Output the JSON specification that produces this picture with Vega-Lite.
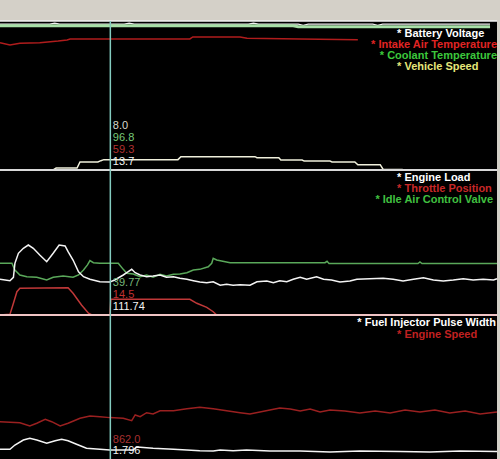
{
  "$schema": "https://vega.github.io/schema/vega-lite/v6.json",
  "background": "#d4d0c8",
  "padding": {"top": 21, "left": 0, "right": 3, "bottom": 0},
  "autosize": {"type": "none"},
  "width": 497,
  "height": 438,
  "config": {"view": {"fill": "#000000", "stroke": null}},
  "datasets": {
    "battery": [{"t":0,"v":13.7},{"t":10,"v":13.7},{"t":11,"v":13.8},{"t":12,"v":13.7},{"t":25,"v":13.7},{"t":26,"v":13.8},{"t":27,"v":13.7},{"t":50,"v":13.7},{"t":51,"v":13.8},{"t":52,"v":13.7},{"t":60,"v":13.7},{"t":61,"v":13.6},{"t":62,"v":13.7},{"t":75,"v":13.7},{"t":76,"v":13.6},{"t":77,"v":13.7},{"t":98.6,"v":13.7}],
    "coolant": [{"t":0,"v":96.8},{"t":59,"v":96.8},{"t":60,"v":96.2},{"t":98.6,"v":96.2}],
    "intake": [{"t":0,"v":57.7},{"t":2.0,"v":56.6},{"t":4.0,"v":57.4},{"t":8.0,"v":57.7},{"t":11.7,"v":58.4},{"t":13.5,"v":58.9},{"t":14.1,"v":59.3},{"t":38.2,"v":59.4},{"t":38.8,"v":60.3},{"t":48.3,"v":60.3},{"t":49.7,"v":59.7},{"t":60.4,"v":59.3},{"t":72.0,"v":59.0}],
    "speed": [{"t":0,"v":0},{"t":10.7,"v":0},{"t":11.3,"v":1.5},{"t":15.5,"v":1.5},{"t":16.1,"v":6.2},{"t":19.7,"v":6.2},{"t":20.3,"v":7.2},{"t":20.9,"v":8.0},{"t":35.8,"v":8.0},{"t":36.4,"v":10.3},{"t":51.3,"v":10.3},{"t":51.7,"v":9.5},{"t":56.1,"v":9.5},{"t":56.5,"v":7.7},{"t":60.8,"v":7.7},{"t":61.2,"v":6.9},{"t":66.4,"v":6.9},{"t":66.8,"v":6.2},{"t":71.4,"v":6.2},{"t":72.0,"v":4.1},{"t":76.5,"v":4.1},{"t":77.1,"v":0.4},{"t":80.9,"v":0.4},{"t":81.3,"v":0}],
    "load": [{"t":0,"v":120.6},{"t":2.0,"v":115.9},{"t":2.7,"v":127.4},{"t":3.0,"v":174.7},{"t":3.7,"v":208.5},{"t":4.7,"v":225.4},{"t":5.7,"v":236.5},{"t":6.7,"v":225.4},{"t":8.0,"v":202.7},{"t":9.4,"v":180.1},{"t":10.7,"v":208.5},{"t":11.9,"v":236.5},{"t":13.1,"v":233.2},{"t":13.7,"v":213.9},{"t":14.7,"v":185.8},{"t":15.8,"v":146.3},{"t":16.8,"v":129.4},{"t":18.1,"v":120.6},{"t":20.1,"v":112.5},{"t":22.1,"v":111.5},{"t":23.1,"v":118.3},{"t":24.8,"v":135.2},{"t":25.8,"v":146.3},{"t":26.5,"v":154.4},{"t":27.2,"v":142.9},{"t":28.2,"v":135.2},{"t":29.5,"v":129.4},{"t":30.8,"v":131.8},{"t":32.2,"v":135.2},{"t":33.5,"v":127.4},{"t":34.9,"v":129.4},{"t":36.2,"v":124.0},{"t":37.6,"v":120.6},{"t":38.9,"v":115.9},{"t":40.2,"v":111.5},{"t":41.6,"v":109.1},{"t":42.9,"v":112.5},{"t":44.3,"v":100.4},{"t":45.6,"v":103.7},{"t":46.9,"v":100.4},{"t":48.3,"v":102.4},{"t":50.3,"v":100.4},{"t":51.7,"v":112.5},{"t":53.7,"v":114.9},{"t":55.0,"v":109.1},{"t":56.3,"v":115.9},{"t":57.7,"v":112.5},{"t":59.0,"v":120.6},{"t":60.4,"v":127.4},{"t":61.7,"v":120.6},{"t":63.7,"v":129.4},{"t":65.1,"v":120.6},{"t":66.7,"v":118.3},{"t":68.4,"v":111.5},{"t":70.4,"v":114.9},{"t":71.8,"v":120.6},{"t":74.4,"v":122.7},{"t":77.1,"v":124.0},{"t":79.1,"v":120.6},{"t":81.1,"v":114.9},{"t":83.2,"v":120.6},{"t":85.2,"v":126.0},{"t":87.2,"v":118.3},{"t":89.2,"v":114.9},{"t":91.2,"v":118.3},{"t":93.2,"v":122.7},{"t":95.2,"v":118.3},{"t":97.2,"v":120.6},{"t":99.3,"v":118.3},{"t":100,"v":122.7}],
    "iac": [{"t":0,"v":39.8},{"t":2.4,"v":39.8},{"t":3.0,"v":34.6},{"t":4.0,"v":30.8},{"t":5.4,"v":29.5},{"t":7.4,"v":29.0},{"t":9.4,"v":26.9},{"t":10.7,"v":29.0},{"t":12.7,"v":30.0},{"t":14.7,"v":29.0},{"t":15.8,"v":30.8},{"t":16.8,"v":34.6},{"t":17.6,"v":38.5},{"t":18.1,"v":41.8},{"t":18.8,"v":40.2},{"t":20.1,"v":39.8},{"t":23.8,"v":39.8},{"t":24.8,"v":35.1},{"t":25.5,"v":32.1},{"t":26.8,"v":31.5},{"t":28.2,"v":29.5},{"t":29.5,"v":30.8},{"t":30.8,"v":29.0},{"t":32.2,"v":31.3},{"t":33.5,"v":30.0},{"t":34.9,"v":31.3},{"t":36.2,"v":31.5},{"t":37.6,"v":32.5},{"t":38.9,"v":34.6},{"t":40.2,"v":35.1},{"t":41.9,"v":37.1},{"t":42.6,"v":39.8},{"t":42.9,"v":43.6},{"t":43.6,"v":42.3},{"t":46.3,"v":40.2},{"t":50.3,"v":40.2},{"t":65.4,"v":40.2},{"t":65.8,"v":41.3},{"t":66.2,"v":39.6},{"t":84.1,"v":39.6},{"t":84.5,"v":40.8},{"t":84.9,"v":39.6},{"t":100,"v":39.6}],
    "throttle": [{"t":0,"v":0},{"t":2.0,"v":0.6},{"t":2.7,"v":10.8},{"t":3.4,"v":21.5},{"t":4.0,"v":24.7},{"t":13.7,"v":25.2},{"t":14.7,"v":20.1},{"t":16.4,"v":9.2},{"t":17.8,"v":1.6},{"t":18.5,"v":0},{"t":22.1,"v":0},{"t":22.3,"v":14.5},{"t":38.2,"v":14.5},{"t":39.6,"v":10.8},{"t":41.6,"v":7.1},{"t":42.9,"v":3.0},{"t":43.6,"v":0},{"t":100,"v":0}],
    "rpm": [{"t":0,"v":777},{"t":4.0,"v":756},{"t":6.0,"v":687},{"t":7.4,"v":744},{"t":9.1,"v":827},{"t":10.4,"v":777},{"t":12.1,"v":687},{"t":13.7,"v":744},{"t":16.1,"v":848},{"t":18.1,"v":896},{"t":20.1,"v":881},{"t":22.1,"v":862},{"t":24.8,"v":848},{"t":26.5,"v":798},{"t":27.2,"v":917},{"t":28.2,"v":881},{"t":29.5,"v":964},{"t":30.8,"v":937},{"t":32.2,"v":1006},{"t":34.9,"v":1006},{"t":37.6,"v":1048},{"t":40.2,"v":1077},{"t":42.9,"v":1048},{"t":45.6,"v":1006},{"t":48.3,"v":964},{"t":50.3,"v":937},{"t":52.3,"v":979},{"t":54.3,"v":1021},{"t":56.3,"v":1062},{"t":58.4,"v":1042},{"t":60.4,"v":1000},{"t":62.4,"v":1042},{"t":64.4,"v":979},{"t":66.4,"v":1021},{"t":69.4,"v":1000},{"t":72.4,"v":958},{"t":75.5,"v":1000},{"t":78.5,"v":958},{"t":81.5,"v":1021},{"t":84.5,"v":979},{"t":87.5,"v":1021},{"t":90.5,"v":958},{"t":93.6,"v":1000},{"t":96.6,"v":937},{"t":100,"v":979}],
    "fuel": [{"t":0,"v":1.94},{"t":2.0,"v":1.94},{"t":3.0,"v":2.80},{"t":4.7,"v":3.80},{"t":6.0,"v":4.14},{"t":7.4,"v":3.80},{"t":9.4,"v":3.14},{"t":11.1,"v":3.66},{"t":12.4,"v":3.94},{"t":13.7,"v":3.66},{"t":15.4,"v":2.94},{"t":17.4,"v":2.14},{"t":20.1,"v":1.94},{"t":22.1,"v":1.80},{"t":26.8,"v":1.80},{"t":27.4,"v":2.34},{"t":28.2,"v":2.34},{"t":30.8,"v":2.14},{"t":34.9,"v":1.94},{"t":37.6,"v":1.80},{"t":40.2,"v":1.66},{"t":42.9,"v":1.60},{"t":44.3,"v":1.80},{"t":46.9,"v":1.66},{"t":49.6,"v":1.80},{"t":54.3,"v":1.60},{"t":60.4,"v":1.60},{"t":66.4,"v":1.40},{"t":72.4,"v":1.60},{"t":80.5,"v":1.50},{"t":86.5,"v":1.40},{"t":92.6,"v":1.60},{"t":100,"v":1.50}],
    "labels1": [{"s": "Battery Voltage"}, {"s": "Intake Air Temperature"}, {"s": "Coolant Temperature"}, {"s": "Vehicle Speed"}],
    "labels2": [{"s": "Engine Load"}, {"s": "Throttle Position"}, {"s": "Idle Air Control Valve"}],
    "labels3": [{"s": "Fuel Injector Pulse Width"}, {"s": "Engine Speed"}]
  },
  "resolve": {"scale": {"y": "independent", "color": "independent"}},
  "layer": [
    {"data": {"name": "battery"}, "mark": {"type": "line", "color": "#f2f2f2", "strokeWidth": 1.2},
     "encoding": {"x": {"field": "t", "type": "quantitative", "scale": {"domain": [0, 100], "nice": false, "zero": false}, "axis": null},
                  "y": {"field": "v", "type": "quantitative", "scale": {"domain": [0, 14], "range": [149, 0]}, "axis": null}}},
    {"data": {"name": "coolant"}, "mark": {"type": "line", "color": "#a8e0a8", "strokeWidth": 3},
     "encoding": {"x": {"field": "t", "type": "quantitative", "scale": {"domain": [0, 100], "nice": false, "zero": false}, "axis": null},
                  "y": {"field": "v", "type": "quantitative", "scale": {"domain": [0, 100], "range": [149, 0]}, "axis": null}}},
    {"data": {"name": "intake"}, "mark": {"type": "line", "color": "#b01c1c", "strokeWidth": 1.5},
     "encoding": {"x": {"field": "t", "type": "quantitative", "scale": {"domain": [0, 100], "nice": false, "zero": false}, "axis": null},
                  "y": {"field": "v", "type": "quantitative", "scale": {"domain": [0, 67.5], "range": [149, 0]}, "axis": null}}},
    {"data": {"name": "speed"}, "mark": {"type": "line", "color": "#f0f0dc", "strokeWidth": 1.5},
     "encoding": {"x": {"field": "t", "type": "quantitative", "scale": {"domain": [0, 100], "nice": false, "zero": false}, "axis": null},
                  "y": {"field": "v", "type": "quantitative", "scale": {"domain": [0, 115], "range": [149, 0]}, "axis": null}}},
    {"data": {"name": "iac"}, "mark": {"type": "line", "color": "#5aa85a", "strokeWidth": 1.5},
     "encoding": {"x": {"field": "t", "type": "quantitative", "scale": {"domain": [0, 100], "nice": false, "zero": false}, "axis": null},
                  "y": {"field": "v", "type": "quantitative", "scale": {"domain": [0, 111.5], "range": [294, 149]}, "axis": null}}},
    {"data": {"name": "throttle"}, "mark": {"type": "line", "color": "#c03838", "strokeWidth": 1.5},
     "encoding": {"x": {"field": "t", "type": "quantitative", "scale": {"domain": [0, 100], "nice": false, "zero": false}, "axis": null},
                  "y": {"field": "v", "type": "quantitative", "scale": {"domain": [0, 134], "range": [294, 149]}, "axis": null}}},
    {"data": {"name": "load"}, "mark": {"type": "line", "color": "#f4f4f4", "strokeWidth": 1.5},
     "encoding": {"x": {"field": "t", "type": "quantitative", "scale": {"domain": [0, 100], "nice": false, "zero": false}, "axis": null},
                  "y": {"field": "v", "type": "quantitative", "scale": {"domain": [0, 490], "range": [294, 149]}, "axis": null}}},
    {"data": {"name": "rpm"}, "mark": {"type": "line", "color": "#9a2020", "strokeWidth": 1.5},
     "encoding": {"x": {"field": "t", "type": "quantitative", "scale": {"domain": [0, 100], "nice": false, "zero": false}, "axis": null},
                  "y": {"field": "v", "type": "quantitative", "scale": {"domain": [0, 3000], "range": [438, 294]}, "axis": null}}},
    {"data": {"name": "fuel"}, "mark": {"type": "line", "color": "#f4f4f4", "strokeWidth": 1.5},
     "encoding": {"x": {"field": "t", "type": "quantitative", "scale": {"domain": [0, 100], "nice": false, "zero": false}, "axis": null},
                  "y": {"field": "v", "type": "quantitative", "scale": {"domain": [0, 28.8], "range": [438, 294]}, "axis": null}}},
    {"data": {"values": [{}]}, "mark": {"type": "rule", "color": "#f2f2f2", "strokeWidth": 1.5},
     "encoding": {"y": {"datum": 1, "type": "quantitative", "scale": {"domain": [0, 1], "range": [149, 0]}, "axis": null}}},
    {"data": {"values": [{}]}, "mark": {"type": "rule", "color": "#d8d8d8", "strokeWidth": 2},
     "encoding": {"y": {"datum": 0, "type": "quantitative", "scale": {"domain": [0, 1], "range": [149, 0]}, "axis": null}}},
    {"data": {"values": [{}]}, "mark": {"type": "rule", "color": "#f0c4c4", "strokeWidth": 2},
     "encoding": {"y": {"datum": 0, "type": "quantitative", "scale": {"domain": [0, 1], "range": [294, 149]}, "axis": null}}},
    {"data": {"values": [{}]}, "mark": {"type": "rule", "color": "#84ccc0", "strokeWidth": 1.5},
     "encoding": {"x": {"datum": 22.2, "type": "quantitative", "axis": null}}},
    {"data": {"name": "labels1"},
     "transform": [{"filter": {"field": "s", "oneOf": ["Battery Voltage", "Vehicle Speed"]}}, {"calculate": "'* ' + datum.s", "as": "label"}],
     "mark": {"type": "text", "font": "Liberation Sans", "fontSize": 11, "fontWeight": "bold", "align": "left", "baseline": "middle"},
     "encoding": {"x": {"datum": 79.9, "type": "quantitative", "axis": null},
                  "y": {"field": "s", "type": "ordinal", "scale": {"type": "point", "padding": 0, "domain": ["Battery Voltage", "Intake Air Temperature", "Coolant Temperature", "Vehicle Speed"], "range": [13, 46]}, "axis": null},
                  "text": {"field": "label"},
                  "color": {"field": "s", "type": "nominal", "scale": {"domain": ["Battery Voltage", "Vehicle Speed"], "range": ["#ffffff", "#e6e67a"]}, "legend": null}}},
    {"data": {"name": "labels1"},
     "transform": [{"filter": {"field": "s", "oneOf": ["Intake Air Temperature", "Coolant Temperature"]}}, {"calculate": "'* ' + datum.s", "as": "label"}],
     "mark": {"type": "text", "font": "Liberation Sans", "fontSize": 11, "fontWeight": "bold", "align": "right", "baseline": "middle"},
     "encoding": {"x": {"datum": 100, "type": "quantitative", "axis": null},
                  "y": {"field": "s", "type": "ordinal", "scale": {"type": "point", "padding": 0, "domain": ["Battery Voltage", "Intake Air Temperature", "Coolant Temperature", "Vehicle Speed"], "range": [13, 46]}, "axis": null},
                  "text": {"field": "label"},
                  "color": {"field": "s", "type": "nominal", "scale": {"domain": ["Intake Air Temperature", "Coolant Temperature"], "range": ["#e02424", "#3cc83c"]}, "legend": null}}},
    {"data": {"name": "labels2"},
     "transform": [{"filter": {"field": "s", "oneOf": ["Engine Load", "Throttle Position"]}}, {"calculate": "'* ' + datum.s", "as": "label"}],
     "mark": {"type": "text", "font": "Liberation Sans", "fontSize": 11, "fontWeight": "bold", "align": "left", "baseline": "middle"},
     "encoding": {"x": {"datum": 79.9, "type": "quantitative", "axis": null},
                  "y": {"field": "s", "type": "ordinal", "scale": {"type": "point", "padding": 0, "domain": ["Engine Load", "Throttle Position", "Idle Air Control Valve"], "range": [157, 179]}, "axis": null},
                  "text": {"field": "label"},
                  "color": {"field": "s", "type": "nominal", "scale": {"domain": ["Engine Load", "Throttle Position"], "range": ["#ffffff", "#c82828"]}, "legend": null}}},
    {"data": {"name": "labels2"},
     "transform": [{"filter": {"field": "s", "oneOf": ["Idle Air Control Valve"]}}, {"calculate": "'* ' + datum.s", "as": "label"}],
     "mark": {"type": "text", "font": "Liberation Sans", "fontSize": 11, "fontWeight": "bold", "align": "right", "baseline": "middle"},
     "encoding": {"x": {"datum": 99.2, "type": "quantitative", "axis": null},
                  "y": {"field": "s", "type": "ordinal", "scale": {"type": "point", "padding": 0, "domain": ["Engine Load", "Throttle Position", "Idle Air Control Valve"], "range": [157, 179]}, "axis": null},
                  "text": {"field": "label"},
                  "color": {"field": "s", "type": "nominal", "scale": {"domain": ["Idle Air Control Valve"], "range": ["#40c040"]}, "legend": null}}},
    {"data": {"name": "labels3"},
     "transform": [{"filter": {"field": "s", "oneOf": ["Engine Speed"]}}, {"calculate": "'* ' + datum.s", "as": "label"}],
     "mark": {"type": "text", "font": "Liberation Sans", "fontSize": 11, "fontWeight": "bold", "align": "left", "baseline": "middle"},
     "encoding": {"x": {"datum": 79.9, "type": "quantitative", "axis": null},
                  "y": {"field": "s", "type": "ordinal", "scale": {"type": "point", "padding": 0, "domain": ["Fuel Injector Pulse Width", "Engine Speed"], "range": [302, 313.5]}, "axis": null},
                  "text": {"field": "label"},
                  "color": {"field": "s", "type": "nominal", "scale": {"domain": ["Engine Speed"], "range": ["#c02020"]}, "legend": null}}},
    {"data": {"name": "labels3"},
     "transform": [{"filter": {"field": "s", "oneOf": ["Fuel Injector Pulse Width"]}}, {"calculate": "'* ' + datum.s", "as": "label"}],
     "mark": {"type": "text", "font": "Liberation Sans", "fontSize": 11, "fontWeight": "bold", "align": "right", "baseline": "middle"},
     "encoding": {"x": {"datum": 99.8, "type": "quantitative", "axis": null},
                  "y": {"field": "s", "type": "ordinal", "scale": {"type": "point", "padding": 0, "domain": ["Fuel Injector Pulse Width", "Engine Speed"], "range": [302, 313.5]}, "axis": null},
                  "text": {"field": "label"},
                  "color": {"field": "s", "type": "nominal", "scale": {"domain": ["Fuel Injector Pulse Width"], "range": ["#ffffff"]}, "legend": null}}},
    {"data": {"values": [{"s": "Vehicle Speed", "r": "8.0"}, {"s": "Coolant Temperature", "r": "96.8"}, {"s": "Intake Air Temperature", "r": "59.3"}, {"s": "Battery Voltage", "r": "13.7"}]},
     "mark": {"type": "text", "font": "Liberation Sans", "fontSize": 11, "align": "left", "baseline": "middle", "dx": 2.5},
     "encoding": {"x": {"datum": 22.2, "type": "quantitative", "axis": null},
                  "y": {"field": "s", "type": "ordinal", "scale": {"type": "point", "padding": 0, "domain": ["Vehicle Speed", "Coolant Temperature", "Intake Air Temperature", "Battery Voltage"], "range": [105, 141]}, "axis": null},
                  "text": {"field": "r"},
                  "color": {"field": "s", "type": "nominal", "scale": {"domain": ["Vehicle Speed", "Coolant Temperature", "Intake Air Temperature", "Battery Voltage"], "range": ["#d8d8cc", "#78c878", "#b03030", "#f4f4f4"]}, "legend": null}}},
    {"data": {"values": [{"s": "Idle Air Control Valve", "r": "39.77"}, {"s": "Throttle Position", "r": "14.5"}, {"s": "Engine Load", "r": "111.74"}]},
     "mark": {"type": "text", "font": "Liberation Sans", "fontSize": 11, "align": "left", "baseline": "middle", "dx": 2.5},
     "encoding": {"x": {"datum": 22.2, "type": "quantitative", "axis": null},
                  "y": {"field": "s", "type": "ordinal", "scale": {"type": "point", "padding": 0, "domain": ["Idle Air Control Valve", "Throttle Position", "Engine Load"], "range": [262, 286]}, "axis": null},
                  "text": {"field": "r"},
                  "color": {"field": "s", "type": "nominal", "scale": {"domain": ["Idle Air Control Valve", "Throttle Position", "Engine Load"], "range": ["#78b878", "#c03030", "#f4f4f4"]}, "legend": null}}},
    {"data": {"values": [{"s": "Engine Speed", "r": "862.0"}, {"s": "Fuel Injector Pulse Width", "r": "1.796"}]},
     "mark": {"type": "text", "font": "Liberation Sans", "fontSize": 11, "align": "left", "baseline": "middle", "dx": 2.5},
     "encoding": {"x": {"datum": 22.2, "type": "quantitative", "axis": null},
                  "y": {"field": "s", "type": "ordinal", "scale": {"type": "point", "padding": 0, "domain": ["Engine Speed", "Fuel Injector Pulse Width"], "range": [419, 430]}, "axis": null},
                  "text": {"field": "r"},
                  "color": {"field": "s", "type": "nominal", "scale": {"domain": ["Engine Speed", "Fuel Injector Pulse Width"], "range": ["#a83030", "#f4f4f4"]}, "legend": null}}}
  ]
}
